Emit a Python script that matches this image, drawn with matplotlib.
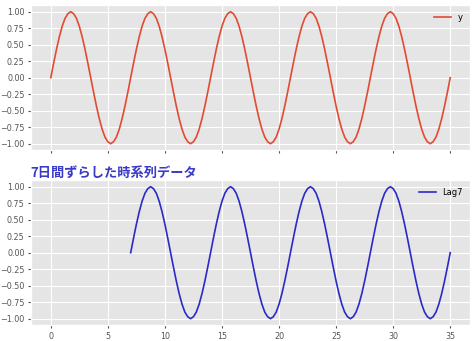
import numpy as np
import pandas as pd
import matplotlib
matplotlib.use('Agg')
import matplotlib.pyplot as plt

plt.style.use('ggplot')

# time axis (days), step 0.25
x = np.arange(0, 35.01, 0.25)

# original series
y = [0.00, 0.22, 0.43, 0.62, 0.78, 0.90, 0.97, 1.00, 0.97, 0.90, 0.78, 0.62, 0.43, 0.22,
     0.00, -0.22, -0.43, -0.62, -0.78, -0.90, -0.97, -1.00, -0.97, -0.90, -0.78, -0.62, -0.43, -0.22,
     0.00, 0.22, 0.43, 0.62, 0.78, 0.90, 0.97, 1.00, 0.97, 0.90, 0.78, 0.62, 0.43, 0.22,
     0.00, -0.22, -0.43, -0.62, -0.78, -0.90, -0.97, -1.00, -0.97, -0.90, -0.78, -0.62, -0.43, -0.22,
     0.00, 0.22, 0.43, 0.62, 0.78, 0.90, 0.97, 1.00, 0.97, 0.90, 0.78, 0.62, 0.43, 0.22,
     0.00, -0.22, -0.43, -0.62, -0.78, -0.90, -0.97, -1.00, -0.97, -0.90, -0.78, -0.62, -0.43, -0.22,
     0.00, 0.22, 0.43, 0.62, 0.78, 0.90, 0.97, 1.00, 0.97, 0.90, 0.78, 0.62, 0.43, 0.22,
     0.00, -0.22, -0.43, -0.62, -0.78, -0.90, -0.97, -1.00, -0.97, -0.90, -0.78, -0.62, -0.43, -0.22,
     0.00, 0.22, 0.43, 0.62, 0.78, 0.90, 0.97, 1.00, 0.97, 0.90, 0.78, 0.62, 0.43, 0.22,
     0.00, -0.22, -0.43, -0.62, -0.78, -0.90, -0.97, -1.00, -0.97, -0.90, -0.78, -0.62, -0.43, -0.22,
     0.00]

# lagged series (starts at day 7)
lag7 = [np.nan] * 28 + [
     0.00, 0.22, 0.43, 0.62, 0.78, 0.90, 0.97, 1.00, 0.97, 0.90, 0.78, 0.62, 0.43, 0.22,
     0.00, -0.22, -0.43, -0.62, -0.78, -0.90, -0.97, -1.00, -0.97, -0.90, -0.78, -0.62, -0.43, -0.22,
     0.00, 0.22, 0.43, 0.62, 0.78, 0.90, 0.97, 1.00, 0.97, 0.90, 0.78, 0.62, 0.43, 0.22,
     0.00, -0.22, -0.43, -0.62, -0.78, -0.90, -0.97, -1.00, -0.97, -0.90, -0.78, -0.62, -0.43, -0.22,
     0.00, 0.22, 0.43, 0.62, 0.78, 0.90, 0.97, 1.00, 0.97, 0.90, 0.78, 0.62, 0.43, 0.22,
     0.00, -0.22, -0.43, -0.62, -0.78, -0.90, -0.97, -1.00, -0.97, -0.90, -0.78, -0.62, -0.43, -0.22,
     0.00, 0.22, 0.43, 0.62, 0.78, 0.90, 0.97, 1.00, 0.97, 0.90, 0.78, 0.62, 0.43, 0.22,
     0.00, -0.22, -0.43, -0.62, -0.78, -0.90, -0.97, -1.00, -0.97, -0.90, -0.78, -0.62, -0.43, -0.22,
     0.00]

df = pd.DataFrame({'y': y, 'Lag7': lag7}, index=x)

fig, (ax1, ax2) = plt.subplots(2, 1, figsize=(4.74, 3.41), dpi=100, sharex=True)
fig.subplots_adjust(left=0.065, right=0.992, top=0.985, bottom=0.046, hspace=0.205)

ax1.plot(df.index, df['y'], color='#E24A33', lw=1.2, label='y')
ax2.plot(df.index, df['Lag7'], color='#2a2ac8', lw=1.2, label='Lag7')

for ax in (ax1, ax2):
    ax.set_yticks([-1.0, -0.75, -0.5, -0.25, 0.0, 0.25, 0.5, 0.75, 1.0])
    ax.tick_params(labelsize=5.8, length=2.5, pad=2, colors='#555555')
    ax.legend(loc='upper right', fontsize=6, frameon=False)
ax2.set_xticks([0, 5, 10, 15, 20, 25, 30, 35])

ax2.set_title('7日間ずらした時系列データ', loc='left', fontsize=9.5, fontweight='bold',
              color='#3a3ac8', family=['Noto Sans CJK JP', 'DejaVu Sans'], pad=2)

plt.savefig('out.png')
